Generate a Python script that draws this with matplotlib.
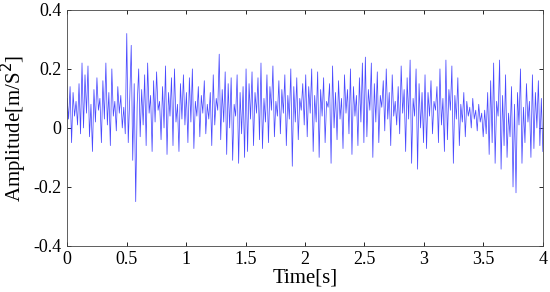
import numpy as np
import matplotlib
matplotlib.use("Agg")
import matplotlib.pyplot as plt

# amplitude values, one list per half second
seg1 = [0.10, 0.03, 0.14, -0.05, 0.12, 0.04, 0.09, 0.01, 0.15, -0.02, 0.22, 0.00, 0.18, 0.05, 0.21, -0.03,
        0.08, -0.08, 0.13, 0.02, 0.17, 0.06, 0.10, -0.05, 0.16, 0.03, 0.22, 0.01, 0.12, -0.06, 0.20, 0.04,
        0.09, -0.01, 0.14, 0.05, 0.11, 0.00, 0.07, -0.02]
seg2 = [0.32, -0.05, 0.10, 0.28, -0.11, 0.15, -0.25, 0.08, 0.20, -0.03, 0.13, 0.01, 0.18, -0.06, 0.22, 0.05,
        0.11, -0.08, 0.16, 0.02, 0.19, 0.06, 0.09, -0.04, 0.14, 0.00, 0.21, -0.09, 0.12, 0.04, 0.17, -0.06,
        0.20, 0.02, 0.08, -0.08, 0.15, 0.03, 0.18, 0.01]
seg3 = [0.12, -0.05, 0.17, 0.02, 0.20, -0.07, 0.09, 0.04, 0.14, -0.03, 0.11, 0.05, 0.16, -0.02, 0.08, 0.03,
        0.12, -0.06, 0.18, 0.01, 0.10, 0.06, 0.25, -0.04, 0.13, 0.02, 0.19, -0.09, 0.15, 0.00, 0.17, -0.11,
        0.08, 0.04, 0.18, -0.12, 0.12, -0.02, 0.14, -0.10]
seg4 = [0.20, -0.08, 0.15, 0.03, 0.19, -0.06, 0.12, 0.05, 0.17, -0.04, 0.22, -0.07, 0.10, 0.02, 0.18, -0.05,
        0.14, 0.06, 0.21, -0.03, 0.09, 0.04, 0.16, -0.02, 0.13, 0.05, 0.18, -0.06, 0.11, 0.03, 0.20, -0.13,
        0.14, 0.02, 0.17, -0.04, 0.10, 0.06, 0.15, 0.01]
seg5 = [0.18, -0.03, 0.14, 0.05, 0.20, -0.08, 0.11, 0.02, 0.19, -0.10, 0.13, 0.04, 0.17, -0.05, 0.09, 0.07,
        0.15, -0.12, 0.21, 0.00, 0.12, -0.04, 0.16, 0.03, 0.10, -0.07, 0.18, 0.05, 0.13, -0.02, 0.20, -0.09,
        0.14, 0.04, 0.11, -0.06, 0.17, 0.02, 0.22, -0.05]
seg6 = [0.24, -0.03, 0.13, 0.06, 0.22, -0.10, 0.15, 0.02, 0.19, -0.05, 0.11, 0.07, 0.16, -0.01, 0.20, 0.03,
        0.12, -0.06, 0.18, 0.04, 0.09, 0.01, 0.14, -0.02, 0.21, 0.05, 0.13, -0.08, 0.17, 0.03, 0.23, -0.12,
        0.10, 0.04, 0.20, -0.14, 0.15, 0.00, 0.12, -0.05]
seg7 = [0.18, -0.07, 0.12, 0.04, 0.16, -0.02, 0.09, 0.06, 0.14, -0.05, 0.20, 0.01, 0.10, -0.08, 0.23, -0.04,
        0.13, 0.06, 0.21, -0.12, 0.11, 0.03, 0.17, -0.06, 0.08, 0.02, 0.12, -0.03, 0.09, 0.04, 0.07, 0.00,
        0.10, 0.03, 0.06, -0.01, 0.08, 0.02, 0.05, -0.03]
seg8 = [0.06, -0.02, 0.12, -0.09, 0.16, -0.05, 0.22, -0.12, 0.09, 0.04, 0.23, -0.14, 0.11, -0.06, 0.18, -0.10,
        0.05, -0.03, 0.14, -0.20, 0.08, -0.22, 0.12, 0.01, 0.20, -0.12, 0.07, -0.05, 0.15, 0.02, 0.09, -0.10,
        0.18, -0.07, 0.12, 0.00, 0.16, -0.06, 0.10, -0.08]

amplitude = np.array(seg1 + seg2 + seg3 + seg4 + seg5 + seg6 + seg7 + seg8)
time = np.linspace(0, 4, len(amplitude))

plt.rcParams['font.family'] = ['Liberation Serif', 'DejaVu Serif']

fig = plt.figure(figsize=(5.5, 2.92), dpi=100)
ax = fig.add_axes([0.122, 0.158, 0.865, 0.808])
ax.plot(time, amplitude, color='#4a4aff', linewidth=0.55)

ax.set_xlim(0, 4)
ax.set_ylim(-0.4, 0.4)
ax.set_xticks([0, 0.5, 1, 1.5, 2, 2.5, 3, 3.5, 4])
ax.set_xticklabels(['0', '0.5', '1', '1.5', '2', '2.5', '3', '3.5', '4'])
ax.set_yticks([-0.4, -0.2, 0, 0.2, 0.4])
ax.set_yticklabels(['-0.4', '-0.2', '0', '0.2', '0.4'])
ax.tick_params(direction='in', top=True, right=True, labelsize=13, length=3, width=0.6, pad=4)
for s in ax.spines.values():
    s.set_linewidth(0.6)
    s.set_color('#444444')

ax.set_xlabel('Time[s]', fontsize=15, labelpad=0)
ax.set_ylabel('Amplitude[m/S$^2$]', fontsize=15, labelpad=3)

fig.savefig('out.png', dpi=100)
